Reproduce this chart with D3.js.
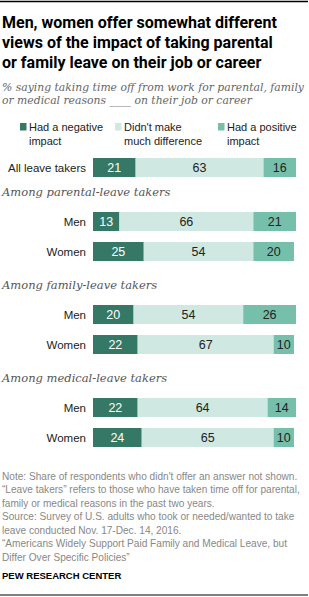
<!DOCTYPE html>
<html>
<head>
<meta charset="utf-8">
<script src="https://cdn.jsdelivr.net/npm/d3@7"></script>
<style>
  body { margin: 0; background: #fff; }
  svg { display: block; }
</style>
</head>
<body>
<div id="chart"></div>
<script>
// data
const title = ["Men, women offer somewhat different", "views of the impact of taking parental", "or family leave on their job or career"];
const subtitle = ["% saying taking time off from work for parental, family", "or medical reasons ____ on their job or career"];
const keys = ["negative", "noDiff", "positive"];
const legendLabels = [["Had a negative", "impact"], ["Didn't make", "much difference"], ["Had a positive", "impact"]];
const groupTitles = [null, "Among parental-leave takers", "Among family-leave takers", "Among medical-leave takers"];
const rowGroup = [0, 1, 1, 2, 2, 3, 3];
const rowLabels = ["All leave takers", "Men", "Women", "Men", "Women", "Men", "Women"];
const negative = [21, 13, 25, 20, 22, 22, 24];
const noDiff = [63, 66, 54, 54, 67, 64, 65];
const positive = [16, 21, 20, 26, 10, 14, 10];
const notes = [
  "Note: Share of respondents who didn't offer an answer not shown.",
  "\u201CLeave takers\u201D refers to those who have taken time off for parental,",
  "family or medical reasons in the past two years.",
  "Source: Survey of U.S. adults who took or needed/wanted to take",
  "leave conducted Nov. 17-Dec. 14, 2016.",
  "\u201CAmericans Widely Support Paid Family and Medical Leave, but",
  "Differ Over Specific Policies\u201D"
];

const width = 309, height = 597;
const colors = { negative: "#367866", noDiff: "#d0e8e2", positive: "#76bfab" };
const sans = "'Liberation Sans', Arial, sans-serif";
const serif = "'DejaVu Serif', Georgia, serif";

const rows = rowLabels.map((label, i) => ({
  label, group: rowGroup[i],
  negative: negative[i], noDiff: noDiff[i], positive: positive[i]
}));

// vertical layout: bar tops and group headers
const barH = 19;
let cursor = 158;
let prevGroup = 0;
const headers = [];
rows.forEach((r, i) => {
  if (i > 0) {
    if (r.group !== prevGroup) {
      const hy = cursor + (headers.length === 0 ? 34 : 43);
      headers.push({ text: groupTitles[r.group], y: hy });
      cursor = hy + 20;
    } else {
      cursor += 30;
    }
  }
  r.y = cursor;
  prevGroup = r.group;
});

const x = d3.scaleLinear().domain([0, 100]).range([93, 296]);
const series = d3.stack().keys(keys)(rows);

const svg = d3.select("#chart").append("svg")
  .attr("width", width).attr("height", height);

// top and bottom rules
svg.append("line").attr("x1", 0).attr("x2", 308).attr("y1", 1.5).attr("y2", 1.5)
  .attr("stroke", "#000").attr("stroke-width", 1.3);
svg.append("line").attr("x1", 0).attr("x2", 308).attr("y1", 595).attr("y2", 595)
  .attr("stroke", "#000").attr("stroke-width", 1);

// title
svg.append("g").selectAll("text").data(title).join("text")
  .attr("x", 2).attr("y", (d, i) => 28 + i * 20.2)
  .attr("font-family", "Roboto, 'Liberation Sans', sans-serif").attr("font-weight", "bold").attr("font-size", 16)
  .attr("fill", "#000").text(d => d);

svg.append("g").selectAll("text").data(subtitle).join("text")
  .attr("x", 2).attr("y", (d, i) => 90.5 + i * 13.7)
  .attr("font-family", serif).attr("font-style", "italic").attr("font-size", 10.8)
  .attr("fill", "#666").text(d => d);

// legend
const legendX = [20, 115, 218];
const lg = svg.append("g").selectAll("g").data(keys).join("g")
  .attr("transform", (d, i) => `translate(${legendX[i]},0)`);
lg.append("rect").attr("x", 0).attr("y", 123).attr("width", 6.5).attr("height", 7.5)
  .attr("fill", d => colors[d]);
lg.append("text").attr("font-family", sans).attr("font-size", 11).attr("fill", "#222")
  .selectAll("tspan").data((d, i) => legendLabels[i]).join("tspan")
  .attr("x", 9).attr("y", (d, j) => 131 + j * 14).text(d => d);

// group headers
svg.append("g").selectAll("text").data(headers).join("text")
  .attr("x", 2).attr("y", d => d.y + 4)
  .attr("font-family", serif).attr("font-style", "italic").attr("font-size", 11.5)
  .attr("fill", "#555").text(d => d.text);

// row labels
svg.append("g").selectAll("text").data(rows).join("text")
  .attr("x", 86).attr("y", d => d.y + barH / 2 + 4)
  .attr("text-anchor", "end")
  .attr("font-family", sans).attr("font-size", 11.5).attr("fill", "#222")
  .text(d => d.label);

// bars
const seg = svg.append("g").selectAll("g").data(series).join("g")
  .attr("fill", d => colors[d.key]);
seg.selectAll("rect").data(d => d).join("rect")
  .attr("x", d => x(d[0])).attr("y", d => d.data.y)
  .attr("width", d => x(d[1]) - x(d[0])).attr("height", barH);

const lbl = svg.append("g").selectAll("g").data(series).join("g")
  .attr("fill", d => d.key === "negative" ? "#fff" : "#222");
lbl.selectAll("text").data(d => d).join("text")
  .attr("x", d => (x(d[0]) + x(d[1])) / 2).attr("y", d => d.data.y + barH / 2 + 4.5)
  .attr("text-anchor", "middle")
  .attr("font-family", sans).attr("font-size", 12.5)
  .text(d => d[1] - d[0]);

// notes
svg.append("g").selectAll("text").data(notes).join("text")
  .attr("x", 2).attr("y", (d, i) => 479.5 + i * 13.5)
  .attr("font-family", sans).attr("font-size", 10.1).attr("fill", "#888")
  .text(d => d);

svg.append("text").attr("x", 2).attr("y", 579)
  .attr("font-family", sans).attr("font-weight", "bold").attr("font-size", 9.5)
  .attr("fill", "#000").text("PEW RESEARCH CENTER");
</script>
</body>
</html>
